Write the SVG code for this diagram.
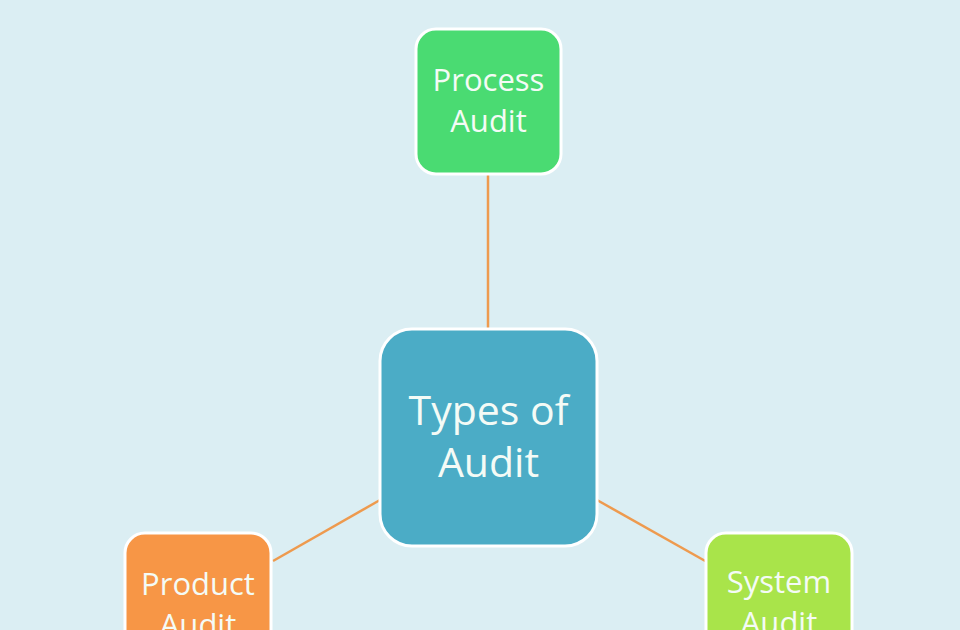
<svg xmlns="http://www.w3.org/2000/svg" width="960" height="630" viewBox="0 0 960 630">
<style>
.box{stroke:#ffffff;stroke-width:3}
.t{font-family:"Open Sans","Noto Sans","Liberation Sans",sans-serif;fill:#F4FBF6;text-anchor:middle}
.s{font-size:31px}
.b{font-size:41px}
.c{stroke:#EE9A4E;stroke-width:2.5;fill:none}
</style>
<rect width="960" height="630" fill="#DBEEF3"/>
<g id="connectors">
<line class="c" x1="488" y1="174" x2="488" y2="329"/>
<line class="c" x1="380" y1="500" x2="273" y2="561"/>
<line class="c" x1="597" y1="500" x2="707" y2="562"/>
</g>
<g id="process">
<rect class="box" x="416" y="29" width="145" height="145" rx="20" fill="#4ADB72"/>
<text class="t s" x="488.5" y="91">Process</text>
<text class="t s" x="488.5" y="132">Audit</text>
</g>
<g id="center">
<rect class="box" x="380" y="329" width="217" height="217" rx="32" fill="#4BACC6"/>
<text class="t b" x="488.5" y="425">Types of</text>
<text class="t b" x="488.5" y="477">Audit</text>
</g>
<g id="product">
<rect class="box" x="125" y="533" width="146" height="146" rx="20" fill="#F79646"/>
<text class="t s" x="198" y="595">Product</text>
<text class="t s" x="198" y="636">Audit</text>
</g>
<g id="system">
<rect class="box" x="706" y="533" width="146" height="146" rx="20" fill="#A9E44A"/>
<text class="t s" x="779" y="593">System</text>
<text class="t s" x="779" y="634">Audit</text>
</g>
</svg>
